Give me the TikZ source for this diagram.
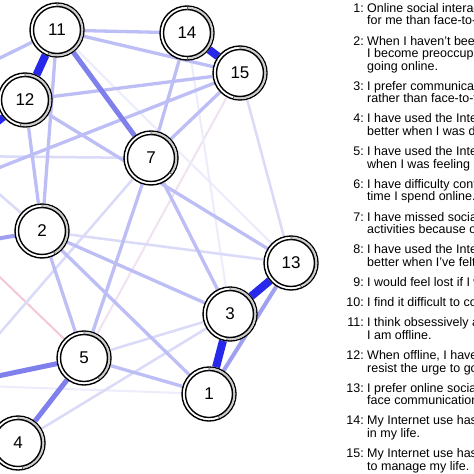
\documentclass[tikz,border=0pt]{standalone}
\usepackage{fontspec}
\setmainfont{Liberation Sans}
\usetikzlibrary{backgrounds}
\definecolor{eS}{RGB}{40,40,235}
\definecolor{eM}{RGB}{128,128,236}
\definecolor{eM2}{RGB}{160,160,240}
\definecolor{eL}{RGB}{190,190,246}
\definecolor{eF}{RGB}{218,218,249}
\definecolor{eV}{RGB}{236,236,252}
\definecolor{eR}{RGB}{244,200,214}
\definecolor{eP}{RGB}{240,226,240}
\definecolor{ringgray}{RGB}{205,205,205}
\tikzset{
  ngnode/.style={circle, draw=black, line width=1.4pt, fill=white, minimum size=54pt,
    inner sep=0pt, font=\fontsize{17}{17}\selectfont},
  estrong/.style={draw=eS, line width=8pt},
  emed/.style={draw=eM, line width=5pt},
  emed2/.style={draw=eM2, line width=4pt},
  elight/.style={draw=eL, line width=3.3pt},
  efaint/.style={draw=eF, line width=2.5pt},
  evfaint/.style={draw=eV, line width=2pt},
  ered/.style={draw=eR, line width=2pt},
  epink/.style={draw=eP, line width=2pt},
  lgtext/.style={inner sep=0pt, anchor=base west, font=\fontsize{12.5}{12.5}\selectfont},
  lgnumber/.style={inner sep=0pt, anchor=base east, font=\fontsize{12.5}{12.5}\selectfont},
}
\newcommand{\gpnode}[5]{%
  \node[ngnode] (#1) at (#2,#3) {#4};
  \begin{scope}[shift={(#1.center)}, x=1pt, y=1pt]
    \fill[ringgray] (90:23.5) arc[start angle=90, end angle={90-#5}, radius=23.5]
      -- ({90-#5}:26.3) arc[start angle={90-#5}, end angle=90, radius=26.3] -- cycle;
    \draw[black, line width=1.4pt] (0,0) circle[radius=23.5];
    \draw[black!65, line width=0.8pt] (90:23.5) -- (90:26.3) ({90-#5}:23.5) -- ({90-#5}:26.3);
  \end{scope}
}
\newcommand{\lgnum}[3]{\node[lgnumber] (#1) at (364,#2) {#3};}
\newcommand{\lgtxt}[3]{\node[lgtext] (#1) at (367,#2) {#3};}
\begin{document}
\begin{tikzpicture}[x=1pt, y=-1pt]
\useasboundingbox (0,0) rectangle (474,474);
% nodes
\gpnode{n11}{57}{30}{11}{200}
\gpnode{n12}{25}{100}{12}{190}
\gpnode{n14}{187}{33}{14}{180}
\gpnode{n15}{240}{73}{15}{195}
\gpnode{n7}{151}{158}{7}{128}
\gpnode{n2}{42}{231}{2}{151}
\gpnode{n13}{291}{263}{13}{157}
\gpnode{n3}{230}{314}{3}{187}
\gpnode{n5}{84}{358}{5}{144}
\gpnode{n1}{209}{394}{1}{157}
\gpnode{n4}{18}{443}{4}{170}
% off-picture ends
\coordinate (o9) at (-45,80);
\coordinate (o10) at (-45,156);
\coordinate (o6) at (-45,185);
\coordinate (oA) at (-45,246);
\coordinate (oR) at (-45,234);
\coordinate (o8) at (-45,385);
\begin{scope}[on background layer]
  \fill[white] (0,0) rectangle (474,474);
  \clip (0,0) rectangle (474,474);
  % very faint
  \draw[evfaint] (o8) -- (n1);
  \draw[epink] (n15) -- (n5);
  \draw[evfaint] (n11) -- (n13);
  \draw[evfaint] (n14) -- (n3);
  \draw[ered] (oR) -- (n5);
  % faint
  \draw[efaint] (n15) -- (n13);
  \draw[efaint] (n4) -- (n3);
  \draw[efaint] (n5) -- (n3);
  \draw[efaint] (o10) -- (n7);
  \draw[efaint] (o10) -- (n2);
  \draw[efaint] (n2) -- (n13);
  \draw[efaint] (o8) -- (n7);
  % light
  \draw[elight] (n11) -- (n14);
  \draw[elight] (n11) -- (n15);
  \draw[elight] (n11) -- (n2);
  \draw[elight] (n12) -- (n2);
  \draw[elight] (n12) -- (n15);
  \draw[elight] (n14) -- (n7);
  \draw[elight] (n7) -- (n15);
  \draw[elight] (n7) -- (n3);
  \draw[elight] (n7) -- (n5);
  \draw[elight] (n2) -- (n3);
  \draw[elight] (n2) -- (n1);
  \draw[elight] (n2) -- (n5);
  \draw[elight] (n5) -- (n1);
  \draw[elight] (n11) -- (o9);
  \draw[elight] (n12) -- (n13);
  \draw[elight] (o6) -- (n15);
  % medium
  \draw[emed2] (n1) -- (n13);
  \draw[emed2] (oA) -- (n2);
  \draw[emed] (n11) -- (n7);
  \draw[emed] (n4) -- (n5);
  \draw[emed] (o8) -- (n5);
  % strong
  \draw[estrong] (n11) -- (n12);
  \draw[estrong] (n14) -- (n15);
  \draw[estrong] (n3) -- (n13);
  \draw[estrong] (n3) -- (n1);
  \draw[estrong, line width=7pt] (n12) -- (o10);
  \draw[estrong, line width=7pt] (n4) -- (o8);
\end{scope}
% legend
\begin{scope}
\clip (0,0) rectangle (474,474);
\lgnum{m1}{12.3}{1:}\lgtxt{t1a}{12.3}{Online social interaction is more comfortable}
\lgtxt{t1b}{24.8}{for me than face-to-face interaction.}
\lgnum{m2}{45.0}{2:}\lgtxt{t2a}{45.0}{When I haven't been online for some time,}
\lgtxt{t2b}{57.5}{I become preoccupied with the thought of}
\lgtxt{t2c}{70.0}{going online.}
\lgnum{m3}{90.2}{3:}\lgtxt{t3a}{90.2}{I prefer communicating with people online}
\lgtxt{t3b}{102.7}{rather than face-to-face.}
\lgnum{m4}{122.9}{4:}\lgtxt{t4a}{122.9}{I have used the Internet to make myself feel}
\lgtxt{t4b}{135.4}{better when I was down.}
\lgnum{m5}{155.6}{5:}\lgtxt{t5a}{155.6}{I have used the Internet to talk with others}
\lgtxt{t5b}{168.1}{when I was feeling isolated.}
\lgnum{m6}{188.3}{6:}\lgtxt{t6a}{188.3}{I have difficulty controlling the amount of}
\lgtxt{t6b}{200.8}{time I spend online.}
\lgnum{m7}{221.0}{7:}\lgtxt{t7a}{221.0}{I have missed social engagements or}
\lgtxt{t7b}{233.5}{activities because of my Internet use.}
\lgnum{m8}{253.7}{8:}\lgtxt{t8a}{253.7}{I have used the Internet to make myself feel}
\lgtxt{t8b}{266.2}{better when I've felt upset.}
\lgnum{m9}{286.4}{9:}\lgtxt{t9a}{286.4}{I would feel lost if I was unable to go online.}
\lgnum{m10}{306.6}{10:}\lgtxt{t10a}{306.6}{I find it difficult to control my Internet use.}
\lgnum{m11}{326.8}{11:}\lgtxt{t11a}{326.8}{I think obsessively about going online when}
\lgtxt{t11b}{339.3}{I am offline.}
\lgnum{m12}{359.5}{12:}\lgtxt{t12a}{359.5}{When offline, I have a hard time trying to}
\lgtxt{t12b}{372.0}{resist the urge to go online.}
\lgnum{m13}{392.2}{13:}\lgtxt{t13a}{392.2}{I prefer online social interaction over face-to-}
\lgtxt{t13b}{404.7}{face communication.}
\lgnum{m14}{424.9}{14:}\lgtxt{t14a}{424.9}{My Internet use has created problems for me}
\lgtxt{t14b}{437.4}{in my life.}
\lgnum{m15}{457.6}{15:}\lgtxt{t15a}{457.6}{My Internet use has made it difficult for me}
\lgtxt{t15b}{470.1}{to manage my life.}
\end{scope}
\end{tikzpicture}
\end{document}
